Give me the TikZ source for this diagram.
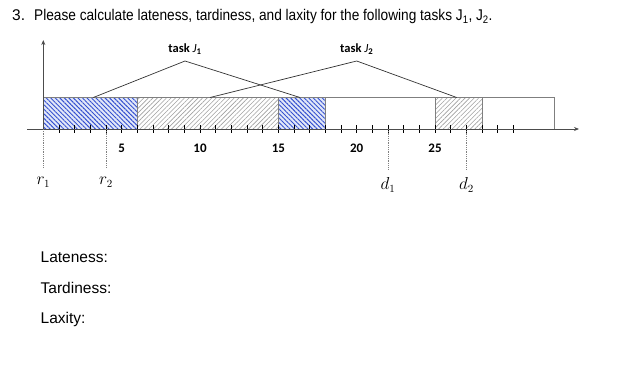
\documentclass[tikz,border=0pt]{standalone}
\usepackage{fontspec}
\setmainfont{Liberation Sans}
\newfontfamily\calib{Carlito}
\usetikzlibrary{patterns.meta,arrows.meta}
\definecolor{hatchblue}{HTML}{3550D0}
\definecolor{lightblue}{HTML}{E2E8F8}
\definecolor{boxgray}{HTML}{7F7F7F}
\definecolor{hatchgray}{HTML}{A0A0A0}
\begin{document}
\begin{tikzpicture}[x=1pt,y=-1pt,
  hdr/.style={font=\fontsize{15.5}{17}\selectfont, inner sep=0pt, anchor=base west},
  qtext/.style={font=\fontsize{15.5}{17}\selectfont, inner sep=0pt, anchor=base west},
  tasklab/.style={font=\calib\bfseries\fontsize{12.5}{14}\selectfont, inner sep=0pt},
  numlab/.style={font=\calib\bfseries\fontsize{13}{15}\selectfont, inner sep=0pt},
  mathlab/.style={font=\fontsize{16}{18}\selectfont, inner sep=0pt},
  blueblk/.style={fill=lightblue, draw=hatchblue, dashed, line width=0.6pt,
    postaction={pattern={Lines[angle=-45,distance=3.2pt,line width=0.95pt]}, pattern color=hatchblue}},
  grayblk/.style={draw=none,
    postaction={pattern={Lines[angle=45,distance=3.2pt,line width=0.6pt]}, pattern color=hatchgray}},
  outline/.style={draw=boxgray, line width=0.9pt},
  guide/.style={draw=gray, line width=0.5pt, dash pattern=on 1pt off 0.8pt},
  conn/.style={draw=black!80, line width=0.7pt},
  tick/.style={draw=black, line width=0.7pt},
  axis/.style={draw=black!70, line width=0.9pt}
]
\useasboundingbox (0,0) rectangle (617,364);
\def\X#1{43.3+15.67*#1}
% header
\node[hdr] (num) at (12,20.5) {3.};
\node[hdr] (title) at (34,20.5) {\scalebox{0.882}[1]{Please calculate lateness, tardiness, and laxity for the following tasks J\textsubscript{1}, J\textsubscript{2}.}};
% blocks
\path[blueblk] ({\X{0}},97.5) rectangle ({\X{6}},129);
\path[grayblk] ({\X{6}},97.5) rectangle ({\X{15}},129);
\path[blueblk] ({\X{15}},97.5) rectangle ({\X{18}},129);
\path[grayblk] ({\X{25}},97.5) rectangle ({\X{28}},129);
% outline
\draw[outline] ({\X{0}},97.5) rectangle (554,129);
\foreach \t in {6,15,18,25,28} \draw[outline] ({\X{\t}},97.5) -- ({\X{\t}},129);
% ticks
\foreach \t in {1,...,30} \draw[tick] ({\X{\t}},125) -- ({\X{\t}},133);
% axes
\coordinate (ax0) at (27,129);
\coordinate (ax1) at (579,129);
\coordinate (ay0) at ({\X{0}},129);
\coordinate (ay1) at ({\X{0}},40);
\draw[axis,-{Stealth[length=5pt,width=4pt]}] (ax0) -- (ax1);
\draw[axis,-{Stealth[length=5pt,width=4pt]}] (ay0) -- (ay1);
% numbers
\foreach \t in {5,10,15,20,25} \node[numlab] (n\t) at ({\X{\t}},148) {\t};
% guides
\coordinate (r1t) at ({\X{0}},129); \coordinate (r1b) at ({\X{0}},168);
\coordinate (r2t) at ({\X{4}},129); \coordinate (r2b) at ({\X{4}},168);
\coordinate (d1t) at ({\X{22}},129); \coordinate (d1b) at ({\X{22}},170);
\coordinate (d2t) at ({\X{27}},129); \coordinate (d2b) at ({\X{27}},170);
\draw[guide] (r1t) -- (r1b);
\draw[guide] (r2t) -- (r2b);
\draw[guide] (d1t) -- (d1b);
\draw[guide] (d2t) -- (d2b);
\node[mathlab] (r1) at ({\X{0}},182) {$r_1$};
\node[mathlab] (r2) at ({\X{4}},182) {$r_2$};
\node[mathlab] (d1) at ({\X{22}},185) {$d_1$};
\node[mathlab] (d2) at ({\X{27}},185) {$d_2$};
% task labels
\node[tasklab] (t1) at (185,49) {task {\mdseries\itshape J}\textsubscript{1}};
\node[tasklab] (t2) at (356.7,49) {task {\mdseries\itshape J}\textsubscript{2}};
\coordinate (p1) at (185,61);
\coordinate (p2) at (356.7,61);
\coordinate (a1) at (93.3,97.5);
\coordinate (b1) at (300,97.5);
\coordinate (a2) at (210,97.5);
\coordinate (b2) at (456.7,97.5);
\draw[conn] (a1) -- (p1) -- (b1);
\draw[conn] (a2) -- (p2) -- (b2);
% questions
\node[qtext] (late) at (40.5,262.7) {Lateness:};
\node[qtext] (tard) at (40.5,293.3) {Tardiness:};
\node[qtext] (lax) at (40.5,323.3) {Laxity:};
\end{tikzpicture}
\end{document}
